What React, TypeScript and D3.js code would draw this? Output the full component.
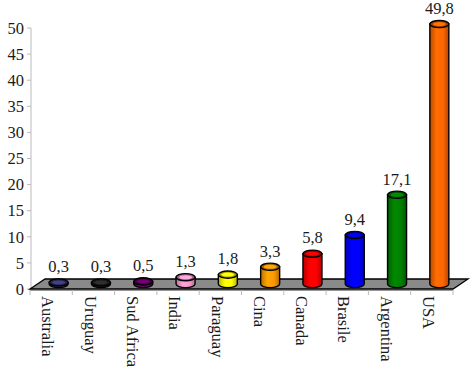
import * as d3 from "d3";

const WIDTH = 474;
const HEIGHT = 389;
const FLOOR_Y = 289;
const DEPTH = { dx: 15, dy: -10 };
const X0 = 30;
const X1 = 453;

const COUNTRIES = ["Australia", "Uruguay", "Sud Africa", "India", "Paraguay", "Cina", "Canada", "Brasile", "Argentina", "USA"];
const VALUES = [0.3, 0.3, 0.5, 1.3, 1.8, 3.3, 5.8, 9.4, 17.1, 49.8];
const COLORS = ["#3a3a78", "#2a2a2a", "#660066", "#ff99cc", "#ffff00", "#ff9900", "#ff0000", "#0000ff", "#008000", "#ff6600"];
const Y_TICKS = [0, 5, 10, 15, 20, 25, 30, 35, 40, 45, 50];

const FONT = "'Liberation Serif', 'Times New Roman', serif";
const FS = 16.5;

export default function App() {
  const x = d3.scaleBand<string>().domain(COUNTRIES).range([X0, X1]).padding(0);
  const y = d3.scaleLinear().domain([0, 50]).range([FLOOR_Y, 28]);
  const k = y(0) - y(1);
  const baseY = FLOOR_Y + DEPTH.dy / 2;
  const rx = 9.5;
  const ry = 3.6;

  const floor = d3.path();
  floor.moveTo(X0, FLOOR_Y);
  floor.lineTo(X1, FLOOR_Y);
  floor.lineTo(X1 + DEPTH.dx, FLOOR_Y + DEPTH.dy);
  floor.lineTo(X0 + DEPTH.dx, FLOOR_Y + DEPTH.dy);
  floor.closePath();

  const fmt = (v: number) => v.toFixed(1).replace(".", ",");

  return (
    <svg width={WIDTH} height={HEIGHT} style={{ position: "absolute", left: 0, top: 0, background: "#fff" }}>
      <defs>
        {COLORS.map((c, i) => {
          const col = d3.color(c)!;
          return (
            <linearGradient key={i} id={`g${i}`} x1="0" x2="1" y1="0" y2="0">
              <stop offset="0" stopColor={col.darker(0.9).toString()} />
              <stop offset="0.35" stopColor={col.brighter(0.2).toString()} />
              <stop offset="0.7" stopColor={c} />
              <stop offset="1" stopColor={col.darker(1).toString()} />
            </linearGradient>
          );
        })}
      </defs>

      {/* y axis */}
      <line x1={X0 + 1} x2={X0 + 1} y1={y(50)} y2={FLOOR_Y} stroke="#bbb" />
      {Y_TICKS.map((t) => (
        <g key={t}>
          <line x1={X0 - 3} x2={X0 + 1} y1={y(t)} y2={y(t)} stroke="#bbb" />
          <text x={X0 - 6} y={y(t)} dy="0.35em" textAnchor="end" fontFamily={FONT} fontSize={FS} fill="#1a1a1a">
            {t}
          </text>
        </g>
      ))}

      {/* floor */}
      <path d={floor.toString()} fill="#8a8a8a" stroke="#000" strokeWidth={1.3} />
      <line x1={X0} x2={X1} y1={FLOOR_Y + 1} y2={FLOOR_Y + 1} stroke="#333" strokeWidth={1} />

      {/* category ticks */}
      {COUNTRIES.map((c) => (
        <line key={c} x1={x(c)!} x2={x(c)!} y1={FLOOR_Y + 1} y2={FLOOR_Y + 6} stroke="#bbb" />
      ))}
      <line x1={X1} x2={X1} y1={FLOOR_Y + 1} y2={FLOOR_Y + 6} stroke="#bbb" />

      {/* cylinders */}
      {COUNTRIES.map((c, i) => {
        const cx = x(c)! + x.bandwidth() / 2 + DEPTH.dx / 2;
        const h = VALUES[i] * k;
        const top = baseY - h;
        const col = d3.color(COLORS[i])!;
        const body = `M${cx - rx},${top} L${cx - rx},${baseY} A${rx},${ry} 0 0 0 ${cx + rx},${baseY} L${cx + rx},${top} Z`;
        return (
          <g key={c}>
            <path d={body} fill={`url(#g${i})`} stroke="#000" strokeWidth={1.4} />
            <ellipse cx={cx} cy={top} rx={rx} ry={ry} fill={col.darker(1.3).toString()} stroke="#000" strokeWidth={1.4} />
            <ellipse cx={cx} cy={top} rx={rx - 3} ry={ry - 1.6} fill={col.brighter(0.3).toString()} />
            <text x={cx} y={top - 16} dy="0.35em" textAnchor="middle" fontFamily={FONT} fontSize={FS} fill="#1a1a1a">
              {fmt(VALUES[i])}
            </text>
          </g>
        );
      })}

      {/* category labels */}
      {COUNTRIES.map((c) => {
        const lx = x(c)! + x.bandwidth() / 2 - 3;
        return (
          <text
            key={c}
            transform={`translate(${lx},${FLOOR_Y + 7}) rotate(90)`}
            dy="0.35em"
            fontFamily={FONT}
            fontSize={FS}
            fill="#1a1a1a"
          >
            {c}
          </text>
        );
      })}
    </svg>
  );
}
